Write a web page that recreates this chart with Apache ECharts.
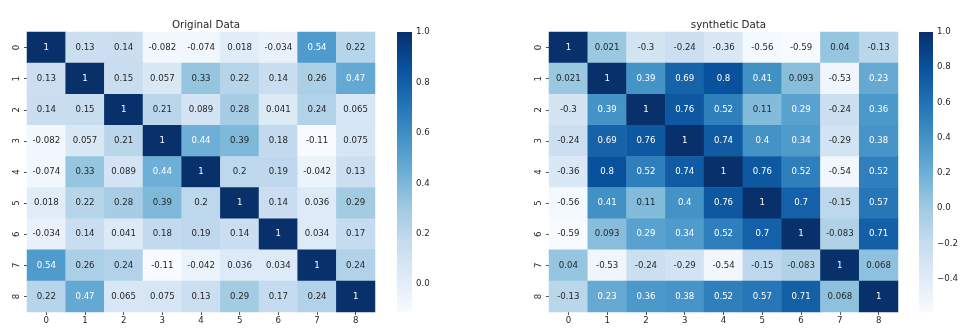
<!DOCTYPE html>
<html>
<head>
<meta charset="utf-8">
<script src="https://cdn.jsdelivr.net/npm/echarts@6/dist/echarts.min.js"></script>
<style>
html,body{margin:0;padding:0;background:#fff;}
#c{width:971px;height:333px;}
</style>
</head>
<body>
<div id="c"></div>
<script>
var labels = ['0','1','2','3','4','5','6','7','8'];
var originalData = [
  [1, 0.13, 0.14, -0.082, -0.074, 0.018, -0.034, 0.54, 0.22],
  [0.13, 1, 0.15, 0.057, 0.33, 0.22, 0.14, 0.26, 0.47],
  [0.14, 0.15, 1, 0.21, 0.089, 0.28, 0.041, 0.24, 0.065],
  [-0.082, 0.057, 0.21, 1, 0.44, 0.39, 0.18, -0.11, 0.075],
  [-0.074, 0.33, 0.089, 0.44, 1, 0.2, 0.19, -0.042, 0.13],
  [0.018, 0.22, 0.28, 0.39, 0.2, 1, 0.14, 0.036, 0.29],
  [-0.034, 0.14, 0.041, 0.18, 0.19, 0.14, 1, 0.034, 0.17],
  [0.54, 0.26, 0.24, -0.11, -0.042, 0.036, 0.034, 1, 0.24],
  [0.22, 0.47, 0.065, 0.075, 0.13, 0.29, 0.17, 0.24, 1]
];
var syntheticData = [
  [1, 0.021, -0.3, -0.24, -0.36, -0.56, -0.59, 0.04, -0.13],
  [0.021, 1, 0.39, 0.69, 0.8, 0.41, 0.093, -0.53, 0.23],
  [-0.3, 0.39, 1, 0.76, 0.52, 0.11, 0.29, -0.24, 0.36],
  [-0.24, 0.69, 0.76, 1, 0.74, 0.4, 0.34, -0.29, 0.38],
  [-0.36, 0.8, 0.52, 0.74, 1, 0.76, 0.52, -0.54, 0.52],
  [-0.56, 0.41, 0.11, 0.4, 0.76, 1, 0.7, -0.15, 0.57],
  [-0.59, 0.093, 0.29, 0.34, 0.52, 0.7, 1, -0.083, 0.71],
  [0.04, -0.53, -0.24, -0.29, -0.54, -0.15, -0.083, 1, 0.068],
  [-0.13, 0.23, 0.36, 0.38, 0.52, 0.57, 0.71, 0.068, 1]
];
var originalTicks = [0.0, 0.2, 0.4, 0.6, 0.8, 1.0];
var syntheticTicks = [-0.4, -0.2, 0.0, 0.2, 0.4, 0.6, 0.8, 1.0];
var titles = ['Original Data', 'synthetic Data'];

var BLUES = ['#f7fbff','#deebf7','#c6dbef','#9ecae1','#6baed6','#4292c6','#2171b5','#08519c','#08306b'];
var TXT = '#262626';
var FONT = 'DejaVu Sans';

function hex2rgb(h){return [parseInt(h.substr(1,2),16),parseInt(h.substr(3,2),16),parseInt(h.substr(5,2),16)];}
function bluesAt(t){
  t = Math.max(0, Math.min(1, t));
  var p = t * (BLUES.length - 1), i = Math.min(Math.floor(p), BLUES.length - 2), f = p - i;
  var a = hex2rgb(BLUES[i]), b = hex2rgb(BLUES[i+1]);
  return [a[0]+(b[0]-a[0])*f, a[1]+(b[1]-a[1])*f, a[2]+(b[2]-a[2])*f];
}
function lum(rgb){
  var c = rgb.map(function(v){v/=255;return v<=0.03928? v/12.92 : Math.pow((v+0.055)/1.055,2.4);});
  return 0.2126*c[0]+0.7152*c[1]+0.0722*c[2];
}
function minMax(m){var mn=Infinity,mx=-Infinity;m.forEach(function(r){r.forEach(function(v){mn=Math.min(mn,v);mx=Math.max(mx,v);});});return [mn,mx];}
function buildData(m, mn, mx){
  var out=[];
  for(var r=0;r<m.length;r++){for(var c=0;c<m[r].length;c++){
    var v=m[r][c];
    var col = lum(bluesAt((v-mn)/(mx-mn))) > 0.408 ? TXT : '#ffffff';
    out.push({value:[c,r,v], label:{color:col}});
  }}
  return out;
}
function fmtMinus(v){
  var s = (Math.round(v*10)/10).toFixed(1);
  return s.replace('-', '\u2212');
}

var sets = [
  {data: originalData, ticks: originalTicks, grid:{left:27, top:32, width:348, height:280}, cbar:{left:397, top:32, width:15, height:280}},
  {data: syntheticData, ticks: syntheticTicks, grid:{left:549, top:32, width:349, height:280}, cbar:{left:919, top:32, width:14, height:280}}
];

var option = {
  animation:false,
  backgroundColor:'#ffffff',
  title:[], grid:[], xAxis:[], yAxis:[], visualMap:[], series:[]
};

sets.forEach(function(s, k){
  var mm = minMax(s.data), mn = mm[0], mx = mm[1];
  var gi = k*2, ci = k*2+1;
  option.title.push({text:titles[k], left: s.grid.left + s.grid.width/2, top: 15, textAlign:'center',
    textStyle:{fontFamily:FONT, fontSize:10.3, fontWeight:'normal', color:TXT}});
  option.grid.push({left:s.grid.left, top:s.grid.top, width:s.grid.width, height:s.grid.height});
  option.grid.push({left:s.cbar.left, top:s.cbar.top, width:s.cbar.width, height:s.cbar.height});
  option.xAxis.push({type:'category', gridIndex:gi, data:labels, position:'bottom',
    axisLine:{show:false}, splitLine:{show:false}, splitArea:{show:false},
    axisTick:{show:true, alignWithLabel:true, length:3, lineStyle:{color:TXT, width:0.8}},
    axisLabel:{fontFamily:FONT, fontSize:8.6, color:TXT, margin:4}});
  option.yAxis.push({type:'category', gridIndex:gi, data:labels, inverse:true,
    axisLine:{show:false}, splitLine:{show:false}, splitArea:{show:false},
    axisTick:{show:true, alignWithLabel:true, length:3, lineStyle:{color:TXT, width:0.8}},
    axisLabel:{fontFamily:FONT, fontSize:8.6, color:TXT, rotate:90, margin:6}});
  // colorbar axes
  option.xAxis.push({type:'value', gridIndex:ci, min:0, max:1, show:false});
  option.yAxis.push({type:'value', gridIndex:ci, min:mn, max:mx, position:'right',
    axisLine:{show:false}, splitLine:{show:false},
    axisTick:{show:true, length:3, customValues:s.ticks, lineStyle:{color:TXT, width:0.8}},
    axisLabel:{fontFamily:FONT, fontSize:8.6, color:TXT, margin:4, customValues:s.ticks,
      formatter:function(v){return fmtMinus(v);}}});
  option.visualMap.push({type:'continuous', show:false, min:mn, max:mx, seriesIndex:k*2, dimension:2,
    inRange:{color:BLUES}});
  option.series.push({type:'heatmap', xAxisIndex:gi, yAxisIndex:gi, data:buildData(s.data, mn, mx),
    label:{show:true, fontFamily:FONT, fontSize:8.6, formatter:function(p){return String(p.value[2]);}},
    itemStyle:{borderWidth:0}, emphasis:{disabled:true}});
  var stops = BLUES.map(function(c,i){return {offset: 1 - i/(BLUES.length-1), color:c};});
  option.series.push({type:'custom', xAxisIndex:ci, yAxisIndex:ci, data:[[0]], silent:true,
    renderItem:function(params, api){
      var cs = params.coordSys;
      return {type:'rect', shape:{x:cs.x, y:cs.y, width:cs.width, height:cs.height},
        style:{fill:new echarts.graphic.LinearGradient(0,0,0,1,stops)}};
    }});
});

var chart = echarts.init(document.getElementById('c'), null, {renderer:'canvas'});
chart.setOption(option);
</script>
</body>
</html>
